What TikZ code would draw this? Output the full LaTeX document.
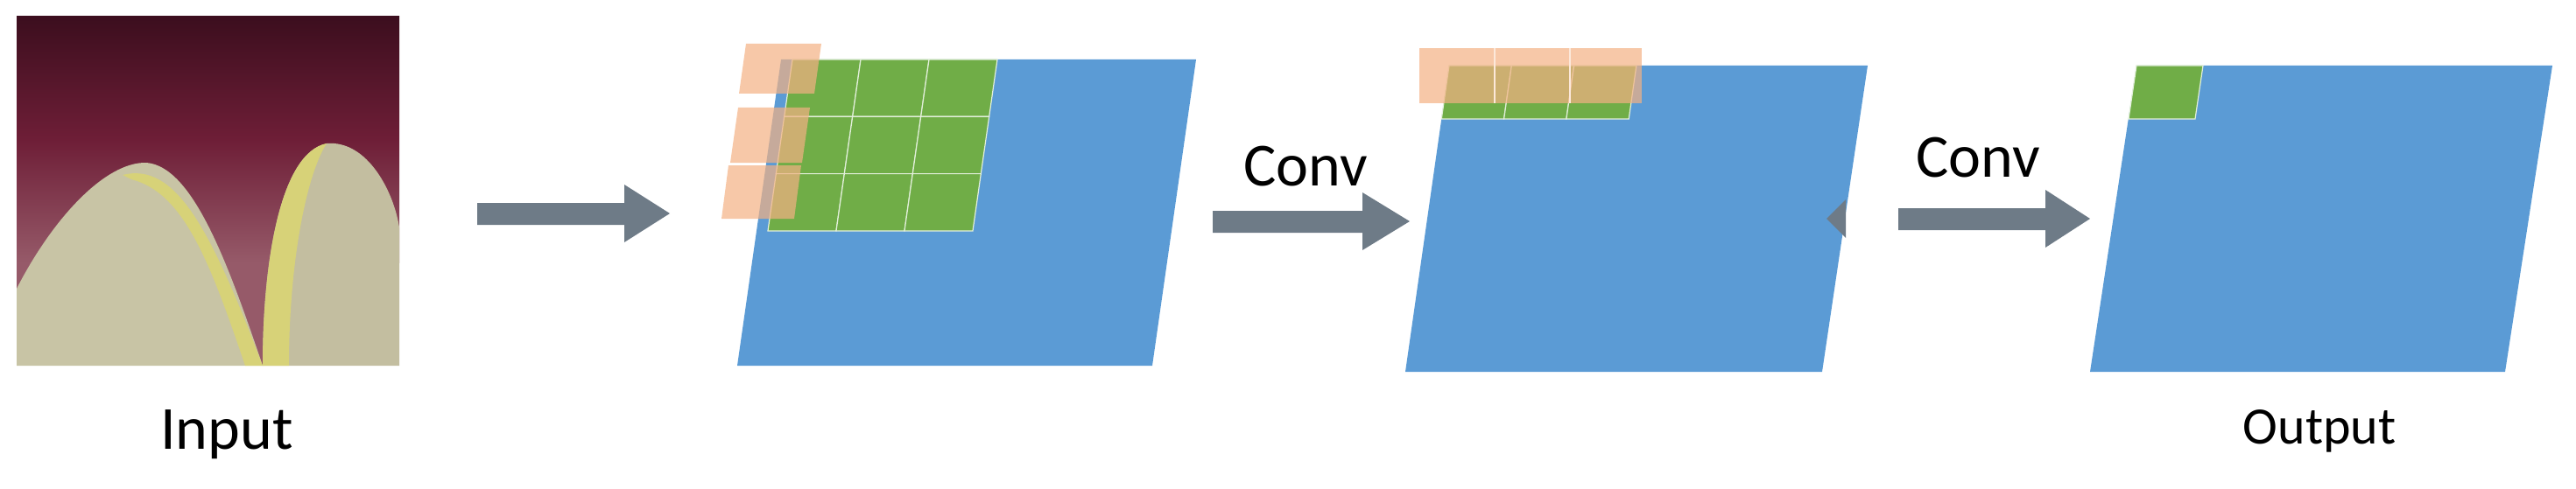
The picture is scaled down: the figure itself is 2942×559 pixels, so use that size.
\documentclass[tikz,border=0pt]{standalone}
\usepackage{fontspec}
\setmainfont{Carlito}
\usetikzlibrary{calc}
\definecolor{fmblue}{HTML}{5B9BD5}
\definecolor{fmgreen}{HTML}{70AD47}
\definecolor{fmorange}{HTML}{F4B183}
\definecolor{arrgray}{HTML}{6E7B87}
\definecolor{phdark}{RGB}{60,14,30}
\definecolor{phmid}{RGB}{110,30,55}
\definecolor{phgum}{RGB}{150,90,105}
\definecolor{phtooth}{RGB}{200,196,165}
\definecolor{phtoothb}{RGB}{195,190,160}
\definecolor{phyel}{RGB}{215,210,120}
\tikzset{
  fmap/.style={fill=fmblue, draw=none},
  cell/.style={fill=fmgreen, draw=white!80!fmgreen, line width=1.2pt},
  win/.style={fill=fmorange, fill opacity=0.7, draw=none},
  blockarrow/.style={fill=arrgray, draw=none},
  lbl/.style={font=\fontsize{70}{80}\selectfont, text=black, inner sep=0pt}
}
\begin{document}
\begin{tikzpicture}[x=1pt,y=-1pt]
\useasboundingbox (0,0) rectangle (2942,559);
% ---- input photo
\shade[top color=phdark, bottom color=phgum, middle color=phmid] (19,19) rectangle (456,300);
\fill[phgum] (19,300) rectangle (456,418);
\fill[phtooth] (19,418) -- (19,330) .. controls (60,250) and (120,185) .. (167,186) .. controls (220,190) and (260,300) .. (300,418) -- cycle;
\fill[phyel] (140,200) .. controls (200,185) and (240,260) .. (300,418) -- (280,418) .. controls (240,300) and (210,220) .. (150,205) -- cycle;
\fill[phtoothb] (300,418) .. controls (300,300) and (320,175) .. (373,164) .. controls (420,160) and (450,220) .. (456,260) -- (456,418) -- cycle;
\fill[phyel] (300,418) .. controls (300,300) and (320,175) .. (373,164) .. controls (350,200) and (330,300) .. (330,418) -- cycle;
\node[lbl] (input) at (259,497) {Input};
% ---- arrow 1
\fill[blockarrow] (545,232) -- (713,232) -- (713,211) -- (765,244) -- (713,277) -- (713,257) -- (545,257) -- cycle;
% ---- panel 1
\fill[fmap] (842,418) -- (1316,418) -- (1366,68) -- (892,68) -- cycle;
\foreach \i in {0,1,2}{
  \foreach \j in {0,1,2}{
    \pgfmathsetmacro{\xa}{905+78*\i}\pgfmathsetmacro{\ya}{68+65.3*\j}
    \pgfmathsetmacro{\xb}{\xa+78}\pgfmathsetmacro{\yb}{\ya+65.3}
    \draw[cell] ({\xa-(\ya-68)*0.143},\ya) -- ({\xb-(\ya-68)*0.143},\ya) -- ({\xb-(\yb-68)*0.143},\yb) -- ({\xa-(\yb-68)*0.143},\yb) -- cycle;
  }
}
\fill[win] (852,50) -- (938,50) -- (930,107) -- (844,107) -- cycle;
\fill[win] (843,123) -- (925,123) -- (916,186) -- (834,186) -- cycle;
\fill[win] (832,189) -- (915,189) -- (907,250) -- (824,250) -- cycle;
% ---- Conv 1 + arrow 2
\node[lbl] (conv1) at (1491,190) {Conv};
\fill[blockarrow] (1385,241) -- (1556,241) -- (1556,220) -- (1610,253) -- (1556,286) -- (1556,266) -- (1385,266) -- cycle;
% ---- panel 2
\fill[fmap] (1605,425) -- (2081,425) -- (2133,75) -- (1655,75) -- cycle;
\foreach \i in {0,1,2}{
  \pgfmathsetmacro{\xa}{1655+71.3*\i}\pgfmathsetmacro{\xb}{\xa+71.3}
  \draw[cell] (\xa,75) -- (\xb,75) -- ({\xb-8.7},136) -- ({\xa-8.7},136) -- cycle;
}
\fill[win] (1621,55) rectangle (1875,118);
\draw[white!70!fmorange, line width=1.2pt] (1707,55) -- (1707,118) (1793,55) -- (1793,118);
\fill[arrgray] (2108,228) -- (2086,250) -- (2108,272) -- cycle;
% ---- Conv 2 + arrow 3
\node[lbl] (conv2) at (2259,180) {Conv};
\fill[blockarrow] (2168,238) -- (2336,238) -- (2336,217) -- (2387,250) -- (2336,283) -- (2336,263) -- (2168,263) -- cycle;
% ---- panel 3
\fill[fmap] (2387,425) -- (2861,425) -- (2915,75) -- (2440,75) -- cycle;
\draw[cell] (2440,75) -- (2516,75) -- (2507,136) -- (2431,136) -- cycle;
\node[lbl, font=\fontsize{60}{70}\selectfont] (output) at (2649,493) {Output};
\end{tikzpicture}
\end{document}
